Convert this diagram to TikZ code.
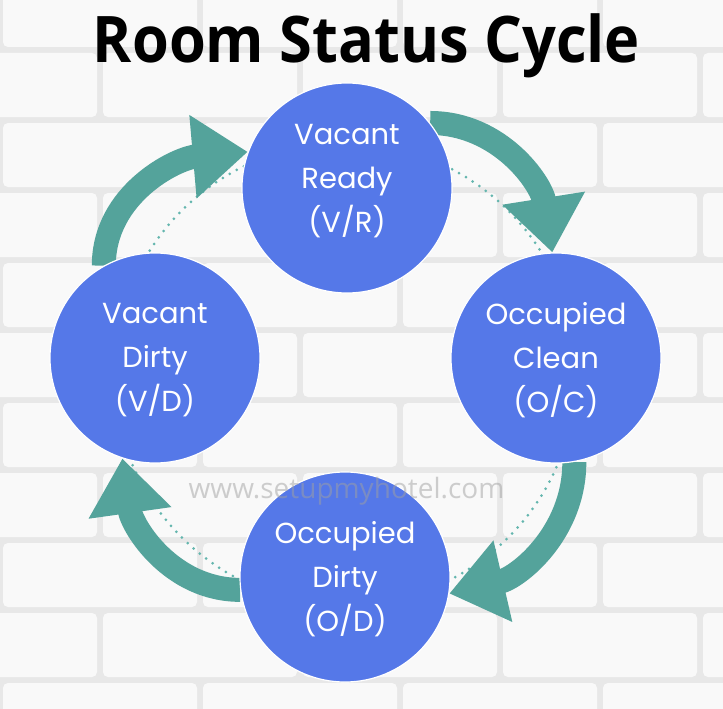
\documentclass[tikz,border=0pt]{standalone}
\usepackage{fontspec}
\newfontfamily\circfont{Poppins}
\newfontfamily\titlefont{Open Sans}
\usetikzlibrary{arrows.meta,calc}
\definecolor{nodeblue}{RGB}{85,120,232}
\definecolor{arrowteal}{RGB}{84,163,155}
\definecolor{dotteal}{RGB}{100,182,174}
\definecolor{mortar}{RGB}{232,232,232}
\definecolor{brickfill}{RGB}{249,249,249}
\definecolor{wmgray}{RGB}{160,160,160}
\pgfdeclarelayer{bg}
\pgfsetlayers{bg,main}
\begin{document}
\begin{tikzpicture}[x=1pt,y=-1pt,
  state/.style={circle, fill=nodeblue, draw=white, line width=1.2pt, minimum size=210pt, inner sep=0pt},
  statetext/.style={text=white, font=\circfont\fontsize{29}{44}\selectfont, align=center, inner sep=0pt},
  flow/.style={draw=arrowteal, line width=24pt, -{Triangle[width=80pt,length=55pt]}},
  dotring/.style={draw=dotteal, line width=3pt, line cap=round, dash pattern=on 0pt off 8pt},
  titlestyle/.style={font=\titlefont\bfseries\fontsize{59.5}{70}\selectfont, text=black, anchor=base},
  wmstyle/.style={font=\titlefont\fontsize{28}{30}\selectfont, text=wmgray, opacity=0.5, anchor=base}
]
\useasboundingbox (0,0) rectangle (723,709);

% states
\node[state] (vr) at (347,188) {};
\node[state] (oc) at (556,358) {};
\node[state] (vd) at (155,358) {};
\node[state] (od) at (345,577) {};

\node[statetext] (vrt) at ($(vr)+(0,-7)$) {Vacant\\Ready\\(V/R)};
\node[statetext] (oct) at ($(oc)+(0,2)$) {Occupied\\Clean\\(O/C)};
\node[statetext] (vdt) at ($(vd)+(0,2)$) {Vacant\\Dirty\\(V/D)};
\node[statetext] (odt) at ($(od)+(0,2)$) {Occupied\\Dirty\\(O/D)};

\node[titlestyle] (title) at (366.5,63) {\scalebox{1}[1.08]{Room Status Cycle}};
\node[wmstyle] (wm) at (346.5,498) {www.setupmyhotel.com};

\begin{pgfonlayer}{bg}
  \fill[mortar] (0,0) rectangle (723,709);
  \begin{scope}
    \clip (0,0) rectangle (723,709);
    \foreach \r in {0,...,10}{
      \pgfmathsetmacro{\yy}{\r*70-20}
      \pgfmathsetmacro{\off}{mod(\r,2)*100}
      \foreach \c in {-1,...,4}{
        \fill[brickfill, rounded corners=5pt] ({\c*200-\off+3},{\yy+3}) rectangle ++(194,64);
      }
    }
  \end{scope}
  \draw[dotring] (345,374) circle[radius=231];
  \draw[flow] (vr.38) to[out=0,in=99] (oc.92);
  \draw[flow] (oc.-80) to[out=-90,in=13] (od.-9);
  \draw[flow] (od.187) to[out=180,in=-82] (vd.252);
  \draw[flow] (vd.119) to[out=90,in=185] (vr.160);
\end{pgfonlayer}
\end{tikzpicture}
\end{document}
